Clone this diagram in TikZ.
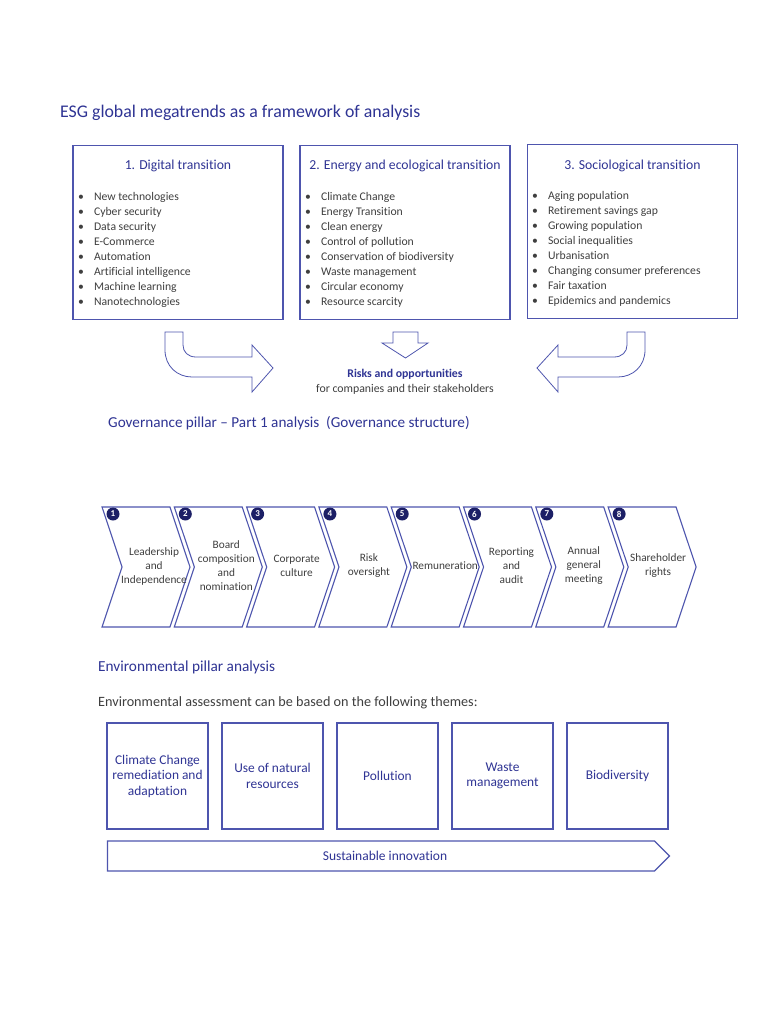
\documentclass[tikz,border=0pt]{standalone}
\usepackage{fontspec}
\setmainfont{Carlito}[Ligatures={NoCommon}]
\usepackage{xcolor}
\usetikzlibrary{shapes.symbols, positioning}
\definecolor{esgblue}{HTML}{2F3494}
\definecolor{esgline}{HTML}{4E55AE}
\definecolor{esgnavy}{HTML}{1C1F66}
\definecolor{esggray}{HTML}{3F3F3F}

\begin{document}
\begin{tikzpicture}[x=1pt, y=-1pt,
            trendbox/.style={rectangle, draw=esgline, line width=1.1pt, minimum width=210pt, minimum height=174pt, inner sep=0pt},
            trendhead/.style={text=esgblue, font=\fontsize{13.7}{16}\selectfont},
            trendlist/.style={anchor=north west, inner sep=0pt, text=esggray, font=\fontsize{11.7}{15}\selectfont},
            bigarrow/.style={draw=esgline, line width=0.8pt, fill=white},
            chevron/.style={signal, signal to=east, signal from=west, signal pointer angle=143, draw=esgline, line width=1.1pt, minimum width=88pt, minimum height=120pt, inner sep=0pt},
            chevtext/.style={text=esggray, align=center, font=\fontsize{11.3}{14}\selectfont},
            chevnum/.style={circle, fill=esgnavy, text=white, inner sep=0pt, minimum size=13pt, font=\bfseries\fontsize{9}{9}\selectfont},
            themebox/.style={rectangle, draw=esgline, line width=1.1pt, minimum width=101pt, minimum height=106pt, inner sep=0pt, text=esgblue, align=center, font=\fontsize{13.4}{15.5}\selectfont},
            title/.style={anchor=west, inner sep=0pt, text=esgblue}
        ]

\fill[white] (0,0) rectangle (768,1024);
\useasboundingbox (0,0) rectangle (768,1024);

% Title
            \node[title, font=\fontsize{17.8}{20}\selectfont] (maintitle) at (60,113) {ESG global megatrends as a framework of analysis};

% Megatrend boxes
            \node[trendbox] (digital) at (178,232.5) {};
            \node[trendbox] (energy) at (405,232.5) {};
            \node[trendbox] (socio) at (632.5,231.5) {};

            \node[trendhead] (digital_head) at (178,166) {1. Digital transition};
            \node[trendhead] (energy_head) at (405,166) {2. Energy and ecological transition};
            \node[trendhead] (socio_head) at (632.5,166) {3. Sociological transition};

            \node[trendlist] (digital_list) at (78,190) {\begin{tabular}{@{}l@{\hspace{10pt}}l@{}}
                \textbullet & New technologies\\ \textbullet & Cyber security\\ \textbullet & Data security\\ \textbullet & E-Commerce\\
                \textbullet & Automation\\ \textbullet & Artificial intelligence\\ \textbullet & Machine learning\\ \textbullet & Nanotechnologies
            \end{tabular}};
            \node[trendlist] (energy_list) at (305,190) {\begin{tabular}{@{}l@{\hspace{10pt}}l@{}}
                \textbullet & Climate Change\\ \textbullet & Energy Transition\\ \textbullet & Clean energy\\ \textbullet & Control of pollution\\
                \textbullet & Conservation of biodiversity\\ \textbullet & Waste management\\ \textbullet & Circular economy\\ \textbullet & Resource scarcity
            \end{tabular}};
            \node[trendlist] (socio_list) at (532,189) {\begin{tabular}{@{}l@{\hspace{10pt}}l@{}}
                \textbullet & Aging population\\ \textbullet & Retirement savings gap\\ \textbullet & Growing population\\ \textbullet & Social inequalities\\
                \textbullet & Urbanisation\\ \textbullet & Changing consumer preferences\\ \textbullet & Fair taxation\\ \textbullet & Epidemics and pandemics
            \end{tabular}};

% Arrows towards risks
            \draw[bigarrow] (165,332) -- (165,350) .. controls (165,366) and (177,377) .. (192,377) -- (252,377) -- (252,392) -- (273,368) -- (252,345) -- (252,357) -- (196,357) .. controls (188,357) and (183,352) .. (183,345) -- (183,332) -- cycle;
            \draw[bigarrow] (645,332) -- (645,350) .. controls (645,366) and (633,377) .. (618,377) -- (558,377) -- (558,392) -- (537,368) -- (558,345) -- (558,357) -- (614,357) .. controls (622,357) and (627,352) .. (627,345) -- (627,332) -- cycle;
            \draw[bigarrow] (393,332) -- (418,332) -- (418,343) -- (428,343) -- (405.5,358) -- (382,343) -- (393,343) -- cycle;

            \node[text=esgblue, font=\bfseries\fontsize{11.8}{13}\selectfont] (risks) at (405,374) {Risks and opportunities};
            \node[text=esggray, font=\fontsize{11.8}{13}\selectfont] (stake) at (405,389) {for companies and their stakeholders};

% Governance pillar
            \node[title, font=\fontsize{15.2}{17}\selectfont] (govtitle) at (108,423) {Governance pillar -- Part 1 analysis~ (Governance structure)};

            \node[chevron] (g1) at (146,567) {};
            \node[chevron] (g2) at (218.3,567) {};
            \node[chevron] (g3) at (290.6,567) {};
            \node[chevron] (g4) at (362.9,567) {};
            \node[chevron] (g5) at (435.2,567) {};
            \node[chevron] (g6) at (507.5,567) {};
            \node[chevron] (g7) at (579.8,567) {};
            \node[chevron] (g8) at (652.1,567) {};

            \node[chevtext] (g1_text) at (154,566) {Leadership\\and\\Independence};
            \node[chevtext] (g2_text) at (226.3,566) {Board\\composition\\and\\nomination};
            \node[chevtext] (g3_text) at (296.6,566) {Corporate\\culture};
            \node[chevtext] (g4_text) at (368.9,566) {Risk\\oversight};
            \node[chevtext] (g5_text) at (445.2,566) {Remuneration};
            \node[chevtext] (g6_text) at (511.5,566) {Reporting\\and\\audit};
            \node[chevtext] (g7_text) at (583.8,566) {Annual\\general\\meeting};
            \node[chevtext] (g8_text) at (658.1,566) {Shareholder\\rights};

            \node[chevnum] (n1) at (113,514) {1};
            \node[chevnum] (n2) at (185.3,514) {2};
            \node[chevnum] (n3) at (257.6,514) {3};
            \node[chevnum] (n4) at (329.9,514) {4};
            \node[chevnum] (n5) at (402.2,514) {5};
            \node[chevnum] (n6) at (474.5,514) {6};
            \node[chevnum] (n7) at (546.8,514) {7};
            \node[chevnum] (n8) at (619.1,514) {8};

% Environmental pillar
            \node[title, font=\fontsize{15.3}{17}\selectfont] (envtitle) at (98,667) {Environmental pillar analysis};
            \node[title, text=esggray, font=\fontsize{14.2}{16}\selectfont] (envintro) at (98,703) {Environmental assessment can be based on the following themes:};

            \node[themebox] (climate) at (157.5,776) {Climate Change\\remediation and\\adaptation};
            \node[themebox] (resources) at (272.5,776) {Use of natural\\resources};
            \node[themebox] (pollution) at (387.5,776) {Pollution};
            \node[themebox] (waste) at (502.5,776) {Waste\\management};
            \node[themebox] (biodiv) at (617.5,776) {Biodiversity};

            \node[signal, signal to=east, draw=esgline, line width=1.1pt, minimum width=562pt, minimum height=30pt, inner sep=0pt] (innov) at (381,856) {};
            \node[text=esgblue, font=\fontsize{13.5}{15}\selectfont] (innov_text) at (385,856) {Sustainable innovation};

        \end{tikzpicture}
\end{document}
